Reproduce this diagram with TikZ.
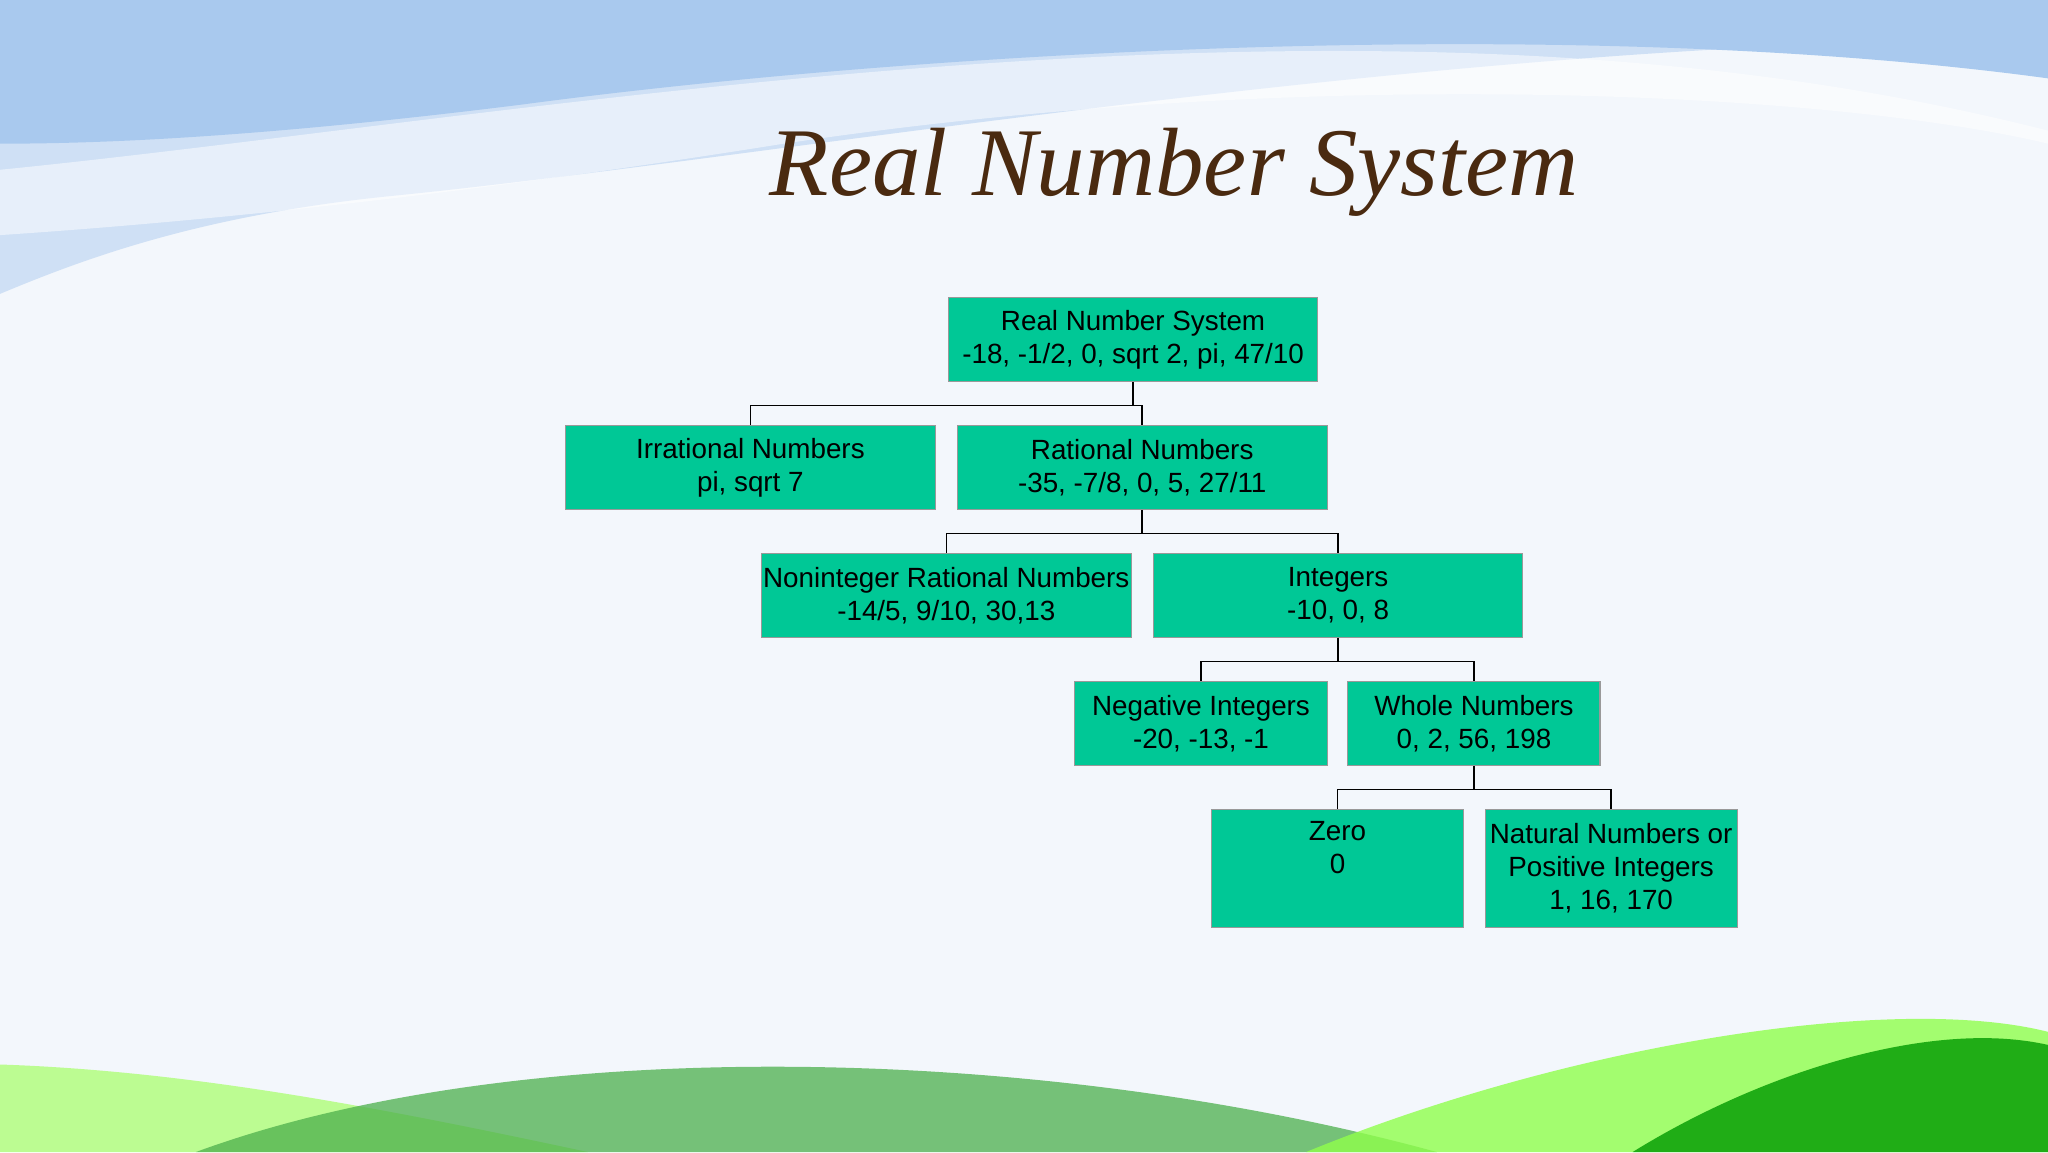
\documentclass[tikz,border=0pt]{standalone}
\usepackage{fontspec}
\setmainfont{Liberation Sans}
\newfontfamily\titlefont{Liberation Serif}
\begin{document}
\begin{tikzpicture}[x=0.0175cm,y=-0.0175cm,
  box/.style={draw=gray!80,fill=boxgreen,minimum width=283*0.0175cm,minimum height=64*0.0175cm,align=center,font=\fontsize{10.6}{12.6}\selectfont,inner sep=0pt},
  sbox/.style={box,minimum width=193*0.0175cm},
  tbox/.style={sbox,minimum height=90*0.0175cm},
  link/.style={draw=black,line width=0.6pt}]
\definecolor{boxgreen}{HTML}{00C896}
\definecolor{bgc}{HTML}{F3F7FC}
\definecolor{titlec}{HTML}{4A2A10}
\definecolor{wave1}{HTML}{A9C9EE}
\definecolor{wave2}{HTML}{CFE0F5}
\useasboundingbox (0,0) rectangle (1568,882);
\fill[bgc] (0,0) rectangle (1568,882);
% top waves
\fill[wave2] (0,0) -- (1568,0) -- (1568,30) .. controls (1100,30) and (600,120) .. (300,150) .. controls (150,165) and (60,200) .. (0,225) -- cycle;
\fill[wave1] (0,0) -- (1568,0) -- (1568,60) .. controls (1200,10) and (700,40) .. (400,80) .. controls (200,105) and (80,110) .. (0,110) -- cycle;
\fill[white,opacity=0.5] (0,130) .. controls (300,100) and (700,30) .. (1100,40) .. controls (1300,45) and (1450,70) .. (1568,100) -- (1568,110) .. controls (1400,70) and (1000,50) .. (600,110) .. controls (350,150) and (150,170) .. (0,180) -- cycle;
% bottom hills
\fill[green!45!lime!60,opacity=0.7] (0,882) -- (0,815) .. controls (150,820) and (300,850) .. (450,882) -- cycle;
\fill[green!55!black!70,opacity=0.75] (150,882) .. controls (400,790) and (800,800) .. (1100,882) -- cycle;
\fill[green!50!lime!70,opacity=0.8] (1000,882) .. controls (1200,800) and (1450,760) .. (1568,790) -- (1568,882) -- cycle;
\fill[green!60!black,opacity=0.8] (1250,882) .. controls (1350,820) and (1480,780) .. (1568,800) -- (1568,882) -- cycle;
% title
\node[text=titlec,font=\titlefont\itshape\fontsize{37}{40}\selectfont] (title) at (899,132) {Real Number System};
% nodes
\node[box] (root) at (867.5,260) {Real Number System\\-18, -1/2, 0, sqrt 2, pi, 47/10};
\node[box] (irr) at (574.5,358) {Irrational Numbers\\pi, sqrt 7};
\node[box] (rat) at (874.5,358) {Rational Numbers\\-35, -7/8, 0, 5, 27/11};
\node[box] (nonint) at (724.5,456) {Noninteger Rational Numbers\\-14/5, 9/10, 30,13};
\node[box] (int) at (1024.5,456) {Integers\\-10, 0, 8};
\node[sbox] (neg) at (919.5,554) {Negative Integers\\-20, -13, -1};
\node[sbox] (whole) at (1128.5,554) {Whole Numbers\\0, 2, 56, 198};
\node[tbox] (zero) at (1024,665) {Zero\\0\\\strut};
\node[tbox] (nat) at (1233.5,665) {Natural Numbers or\\Positive Integers\\1, 16, 170};
% connectors
\draw[link] (root.south) -- ++(0,18) -| (irr.north);
\draw[link] (root.south) ++(0,18) -| (rat.north);
\draw[link] (rat.south) -- ++(0,18) -| (nonint.north);
\draw[link] (rat.south) ++(0,18) -| (int.north);
\draw[link] (int.south) -- ++(0,18) -| (neg.north);
\draw[link] (int.south) ++(0,18) -| (whole.north);
\draw[link] (whole.south) -- ++(0,18) -| (zero.north);
\draw[link] (whole.south) ++(0,18) -| (nat.north);
\end{tikzpicture}
\end{document}
